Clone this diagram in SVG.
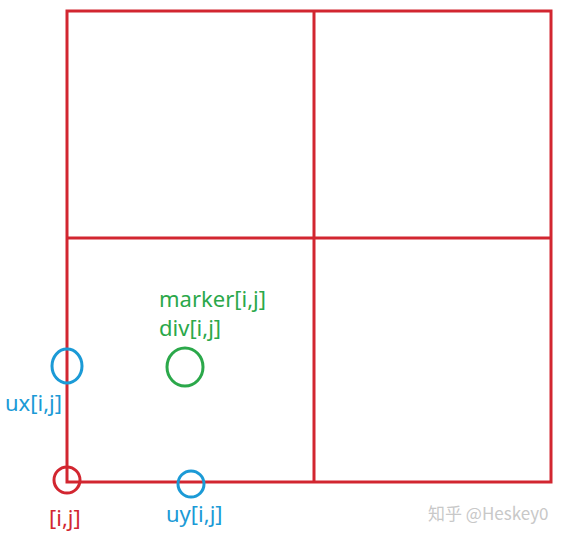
<svg xmlns="http://www.w3.org/2000/svg" width="562" height="538" viewBox="0 0 562 538">
<style>
.grid{fill:none;stroke:#d22630;stroke-width:3}
.c{fill:none;stroke-width:3}
.t{font-family:"Noto Sans","Noto Sans CJK SC",sans-serif;font-size:22px}
</style>
<rect width="562" height="538" fill="#fff"/>
<g id="connectors">
<rect class="grid" x="67" y="11" width="484" height="471"/>
<line class="grid" x1="314" y1="11" x2="314" y2="482"/>
<line class="grid" x1="67" y1="238" x2="551" y2="238"/>
</g>
<g id="node-ij">
<circle class="c" cx="67" cy="480" r="13" stroke="#d22630"/>
<text class="t" x="49" y="526" fill="#d22630">[i,j]</text>
</g>
<g id="node-ux">
<ellipse class="c" cx="67" cy="366" rx="15" ry="17" stroke="#1b9ad6"/>
<text class="t" x="5" y="411" fill="#1b9ad6">ux[i,j]</text>
</g>
<g id="node-uy">
<ellipse class="c" cx="191" cy="484" rx="13" ry="13" stroke="#1b9ad6"/>
<text class="t" x="166" y="522" fill="#1b9ad6">uy[i,j]</text>
</g>
<g id="node-marker">
<ellipse class="c" cx="185" cy="367" rx="18" ry="19" stroke="#2ba84a"/>
<text class="t" x="159" y="307" fill="#2ba84a">marker[i,j]</text>
<text class="t" x="159" y="336" fill="#2ba84a">div[i,j]</text>
</g>
<text x="428" y="520" font-family="Noto Sans CJK SC,Noto Sans,sans-serif" font-size="17" fill="#c8c8c8">知乎 @Heskey0</text>
</svg>
